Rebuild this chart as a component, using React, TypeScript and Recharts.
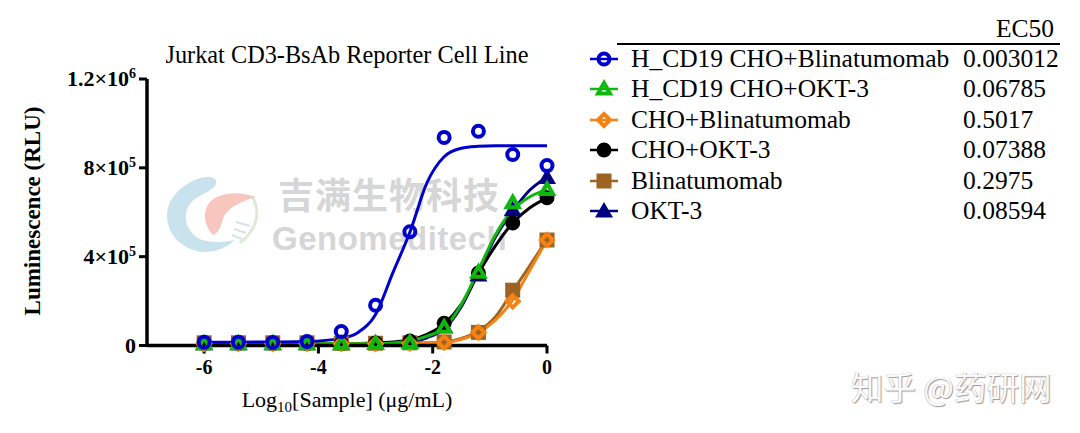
import { ComposedChart, Line, XAxis, YAxis } from "recharts";

const SERIF = "'Liberation Serif', serif";

const seriesNames = ["H_CD19 CHO+Blinatumomab", "H_CD19 CHO+OKT-3", "CHO+Blinatumomab", "CHO+OKT-3", "Blinatumomab", "OKT-3"];
const ec50Labels = ["0.003012", "0.06785", "0.5017", "0.07388", "0.2975", "0.08594"];
const seriesColors = ["#0000cc", "#0fb80f", "#f58214", "#000000", "#9c6420", "#000080"];
const seriesShapes = ["circle", "triangle", "diamond", "dot", "square", "solidTriangle"];

// measured doses
const pointX = [-6, -5.4, -4.8, -4.2, -3.6, -3, -2.4, -1.8, -1.2, -0.6, 0];
const pointValues = [
  [15000, 15000, 14000, 18000, 63000, 181000, 512000, 937000, 965000, 860000, 810000],
  [8000, 8000, 8000, 8000, 8000, 9000, 12000, 82000, 330000, 643000, 702000],
  [8000, 8000, 8000, 8000, 8000, 8000, 10000, 14000, 59000, 199000, 475000],
  [9000, 9000, 9000, 9000, 9000, 11000, 20000, 100000, 326000, 552000, 665000],
  [12000, 12000, 12000, 12000, 10000, 10000, 12000, 16000, 59000, 249000, 475000],
  [8000, 8000, 8000, 8000, 8000, 9000, 14000, 85000, 317000, 611000, 756000],
];

// fitted curves
const curveX = [-6, -5.4, -4.8, -4.2, -3.6, -3.3, -3, -2.7, -2.4, -2.1, -1.8, -1.5, -1.2, -0.9, -0.6, -0.3, 0];
const curveValues = [
  [15000, 15000, 16000, 18000, 32000, 60000, 140000, 326000, 510000, 733000, 850000, 888000, 897000, 900000, 900000, 900000, 900000],
  [8000, 8000, 8000, 8000, 8000, 8000, 8000, 11000, 20000, 42000, 80000, 185000, 340000, 500000, 610000, 670000, 702000],
  [8000, 8000, 8000, 8000, 8000, 8000, 8000, 9000, 10000, 11000, 14000, 28000, 58000, 115000, 205000, 340000, 475000],
  [9000, 9000, 9000, 9000, 9000, 9000, 12000, 16000, 25000, 50000, 97000, 185000, 325000, 450000, 552000, 620000, 665000],
  [8000, 8000, 8000, 8000, 8000, 8000, 8000, 9000, 10000, 12000, 16000, 32000, 65000, 130000, 245000, 360000, 477000],
  [8000, 8000, 8000, 8000, 8000, 8000, 9000, 11000, 15000, 35000, 75000, 175000, 330000, 490000, 605000, 700000, 758000],
];

const xTicks = [-6, -4, -2, 0];
const yTicks = [0, 400000, 800000, 1200000];
const yTickMantissa = ["0", "4×10", "8×10", "1.2×10"];
const yTickPower = ["", "5", "5", "6"];

function Marker({ cx, cy, shape, color }: any) {
  if (cx == null || cy == null) return null;
  if (shape === "circle") return <circle cx={cx} cy={cy} r={5.5} fill="none" stroke={color} strokeWidth={4} />;
  if (shape === "dot") return <circle cx={cx} cy={cy} r={7.5} fill={color} />;
  if (shape === "square") return <rect x={cx - 7.5} y={cy - 7.5} width={15} height={15} fill={color} />;
  if (shape === "diamond")
    return <path d={`M${cx} ${cy - 6}L${cx + 6} ${cy}L${cx} ${cy + 6}L${cx - 6} ${cy}Z`} fill="none" stroke={color} strokeWidth={4} />;
  if (shape === "triangle")
    return <path d={`M${cx} ${cy - 6}L${cx + 6} ${cy + 4.5}L${cx - 6} ${cy + 4.5}Z`} fill="none" stroke={color} strokeWidth={4} />;
  return <path d={`M${cx} ${cy - 9}L${cx + 9} ${cy + 6.5}L${cx - 9} ${cy + 6.5}Z`} fill={color} />;
}

function YTick({ x, y, index }: any) {
  return (
    <text x={x - 1} y={y + 7} textAnchor="end" fontFamily={SERIF} fontWeight="bold" fontSize={22} fill="#000">
      {yTickMantissa[index]}
      {yTickPower[index] && (
        <tspan dy={-8} fontSize={14}>
          {yTickPower[index]}
        </tspan>
      )}
    </text>
  );
}

function XTick({ x, y, payload }: any) {
  return (
    <text x={x} y={y + 18} textAnchor="middle" fontFamily={SERIF} fontWeight="bold" fontSize={20} fill="#000">
      {payload.value}
    </text>
  );
}

function Watermarks() {
  return (
    <>
      <svg width={1080} height={433} style={{ position: "absolute", left: 0, top: 0 }}>
        <path
          d="M207 177C190 178 167 195 167 215C167 240 190 252 205 252C218 252 228 246 235 240C222 243 205 243 196 237C186 228 182 215 190 204C196 196 206 194 213 188C220 182 215 176 207 177Z"
          fill="#c9e3ee"
        />
        <path d="M256 197C240 191 222 192 212 200C204 207 201 222 213 235C220 232 221 224 224 216C230 206 245 200 256 197Z" fill="#f6c6bf" />
        <path d="M253 198C260 212 258 228 240 243" fill="none" stroke="#dcebd8" strokeWidth={3} />
        <path d="M236 222L250 226M234 229L246 233M232 235L242 239" fill="none" stroke="#d5e4ea" strokeWidth={2} />
        <text x={278} y={209} fontFamily="'Noto Sans CJK SC'" fontWeight="bold" fontSize={36} letterSpacing={1} fill="#d6d6d6">
          吉满生物科技
        </text>
        <text x={272} y={250} fontFamily="'Liberation Sans', sans-serif" fontWeight="bold" fontSize={33} letterSpacing={0.5} fill="#d6d6d6">
          Genomeditech
        </text>
      </svg>
      <div
        style={{
          position: "absolute",
          left: 851,
          top: 366,
          fontFamily: "'Noto Sans CJK SC'",
          fontSize: 32.5,
          lineHeight: "40px",
          color: "#fafafa",
          whiteSpace: "nowrap",
          textShadow: "1px 1px 1px #999, -0.5px -0.5px 0 #bbb",
        }}
      >
        知乎 @药研网
      </div>
    </>
  );
}

function LegendTable() {
  const rowY = [59, 89, 120, 150, 181, 211];
  return (
    <div style={{ position: "absolute", left: 0, top: 0, fontFamily: SERIF, color: "#000" }}>
      <div style={{ position: "absolute", left: 147, top: 41, width: 400, textAlign: "center", fontSize: 24.3, lineHeight: "28px", whiteSpace: "nowrap" }}>
        Jurkat CD3-BsAb Reporter Cell Line
      </div>
      <div style={{ position: "absolute", left: 996, top: 14, fontSize: 25.5, lineHeight: "30px" }}>EC50</div>
      <div style={{ position: "absolute", left: 617, top: 43, width: 443, height: 2, background: "#000" }} />
      <svg width={640} height={240} style={{ position: "absolute", left: 0, top: 0 }}>
        {seriesNames.map((name, i) => (
          <g key={name}>
            <line x1={590} x2={618} y1={rowY[i]} y2={rowY[i]} stroke={seriesColors[i]} strokeWidth={2.5} />
            <Marker cx={604} cy={rowY[i]} shape={seriesShapes[i]} color={seriesColors[i]} />
          </g>
        ))}
      </svg>
      {seriesNames.map((name, i) => (
        <div key={name}>
          <div style={{ position: "absolute", left: 631, top: rowY[i] - 15, fontSize: 25.5, lineHeight: "30px", whiteSpace: "nowrap" }}>{name}</div>
          <div style={{ position: "absolute", left: 963, top: rowY[i] - 15, fontSize: 25.5, lineHeight: "30px", whiteSpace: "nowrap" }}>{ec50Labels[i]}</div>
        </div>
      ))}
    </div>
  );
}

export default function App() {
  // later series sit below earlier ones, as in the figure
  const drawOrder = [5, 4, 3, 2, 1, 0];

  return (
    <div style={{ position: "absolute", left: 0, top: 0, width: 1080, height: 433, background: "#fff", overflow: "hidden" }}>
      <Watermarks />
      <div style={{ position: "absolute", left: 0, top: 0 }}>
        <ComposedChart width={1080} height={433} margin={{ top: 79, right: 533, bottom: 0, left: 0 }}>
          <XAxis
            type="number"
            dataKey="x"
            domain={[-7, 0]}
            ticks={xTicks}
            height={87.5}
            tick={<XTick />}
            tickSize={8}
            axisLine={{ stroke: "#000", strokeWidth: 3.5 }}
            tickLine={{ stroke: "#000", strokeWidth: 3 }}
            label={{
              content: () => (
                <text x={347} y={407} textAnchor="middle" fontFamily={SERIF} fontSize={22} fill="#000">
                  Log
                  <tspan dy={5} fontSize={15}>10</tspan>
                  <tspan dy={-5}>[Sample] (μg/mL)</tspan>
                </text>
              ),
            }}
          />
          <YAxis
            type="number"
            dataKey="y"
            domain={[0, 1200000]}
            ticks={yTicks}
            width={147}
            tick={<YTick />}
            tickSize={8}
            axisLine={{ stroke: "#000", strokeWidth: 3.5 }}
            tickLine={{ stroke: "#000", strokeWidth: 3 }}
            label={{
              content: () => (
                <text
                  x={40}
                  y={211}
                  transform="rotate(-90 40 211)"
                  textAnchor="middle"
                  fontFamily={SERIF}
                  fontWeight="bold"
                  fontSize={23}
                  fill="#000"
                >
                  Luminescence (RLU)
                </text>
              ),
            }}
          />
          {drawOrder.map((s) => (
            <Line
              key={`curve-${s}`}
              data={curveX.map((x, i) => ({ x, y: curveValues[s][i] }))}
              dataKey="y"
              type="monotone"
              stroke={seriesColors[s]}
              strokeWidth={3}
              dot={false}
              activeDot={false}
              legendType="none"
              isAnimationActive={false}
            />
          ))}
          {drawOrder.map((s) => (
            <Line
              key={`points-${s}`}
              data={pointX.map((x, i) => ({ x, y: pointValues[s][i] }))}
              dataKey="y"
              stroke="none"
              dot={(props: any) => <Marker key={props.index} cx={props.cx} cy={props.cy} shape={seriesShapes[s]} color={seriesColors[s]} />}
              activeDot={false}
              legendType="none"
              isAnimationActive={false}
            />
          ))}
        </ComposedChart>
      </div>
      <LegendTable />
    </div>
  );
}
